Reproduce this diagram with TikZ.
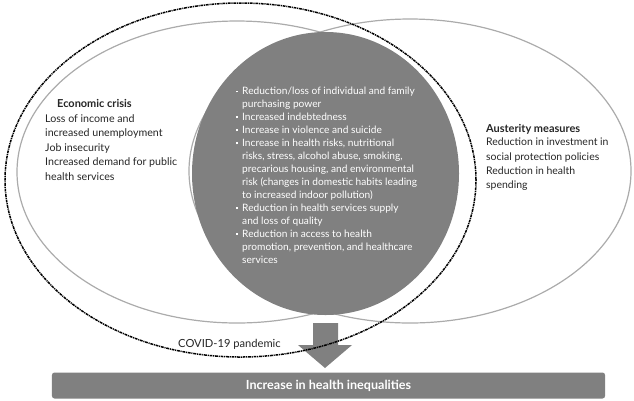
\documentclass[tikz,border=0pt]{standalone}
\usepackage{fontspec}
\setmainfont{Lato}
\definecolor{fillg}{HTML}{808080}
\definecolor{lineg}{HTML}{ABABAB}
\definecolor{txt}{HTML}{262626}
\newcommand\sqb{\makebox[6bp][l]{\raisebox{0.22em}{\rule{1.9bp}{1.9bp}}}}
\newcommand\ind{\makebox[6bp][l]{}}
\begin{document}
\begin{tikzpicture}[x=1bp,y=-1bp,
  venn/.style={draw=lineg,line width=1.2bp},
  covid/.style={draw=black,line width=1.5bp,dash pattern=on 2.8bp off 0.8bp on 1.1bp off 0.8bp},
  lbl/.style={inner sep=0pt,text=txt,align=left,font=\fontsize{10.7}{14.6}\selectfont},
  ctext/.style={inner sep=0pt,text=white,align=left,font=\fontsize{10.2}{13}\selectfont},
]
\useasboundingbox (0,0) rectangle (634,400);
% venn ellipses
\draw[venn] (237,172) ellipse [x radius=220bp, y radius=151bp];
\draw[venn] (410,171) ellipse [x radius=221bp, y radius=152bp];
% central circle
\fill[fillg] (325.5,173.5) ellipse [x radius=133.5bp, y radius=141.5bp];
% arrow
\coordinate (a1) at (313,323);
\coordinate (a2) at (338,323);
\fill[fillg] (a1) -- (a2) -- (338,345) -- (352,345) -- (325,368) -- (298,345) -- (313,345) -- cycle;
% bar
\node[fill=fillg,rounded corners=2.5bp,minimum width=553bp,minimum height=26bp,inner sep=0pt,
  text=white,font=\fontsize{12.6}{14}\selectfont\bfseries] (bar) at (328.5,385.5) {Increase in health inequalities};
% covid ellipse
\draw[covid] (240.5,180) ellipse [x radius=235.5bp, y radius=177bp];
% texts
\node[lbl,anchor=base west,font=\fontsize{11}{14}\selectfont] (ech) at (57,107.5) {\bfseries Economic crisis};
\node[lbl,anchor=north west] (ecb) at (45,114) {Loss of income and\\increased unemployment\\Job insecurity\\Increased demand for public\\health services};
\node[lbl,anchor=base west,font=\fontsize{11}{14}\selectfont] (ash) at (486,132) {\bfseries Austerity measures};
\node[lbl,anchor=north west,font=\fontsize{10.5}{14.3}\selectfont] (asb) at (486,138) {Reduction in investment in\\social protection policies\\Reduction in health\\spending};
\node[ctext,anchor=north west] (ct) at (236,87) {\sqb Reduction/loss of individual and family\\
\ind purchasing power\\
\sqb Increased indebtedness\\
\sqb Increase in violence and suicide\\
\sqb Increase in health risks, nutritional\\
\ind risks, stress, alcohol abuse, smoking,\\
\ind precarious housing, and environmental\\
\ind risk (changes in domestic habits leading\\
\ind to increased indoor pollution)\\
\sqb Reduction in health services supply\\
\ind and loss of quality\\
\sqb Reduction in access to health\\
\ind promotion, prevention, and healthcare\\
\ind services};
\node[lbl,anchor=base west,font=\fontsize{11.2}{13}\selectfont] (cov) at (178,347) {COVID-19 pandemic};
\end{tikzpicture}
\end{document}
